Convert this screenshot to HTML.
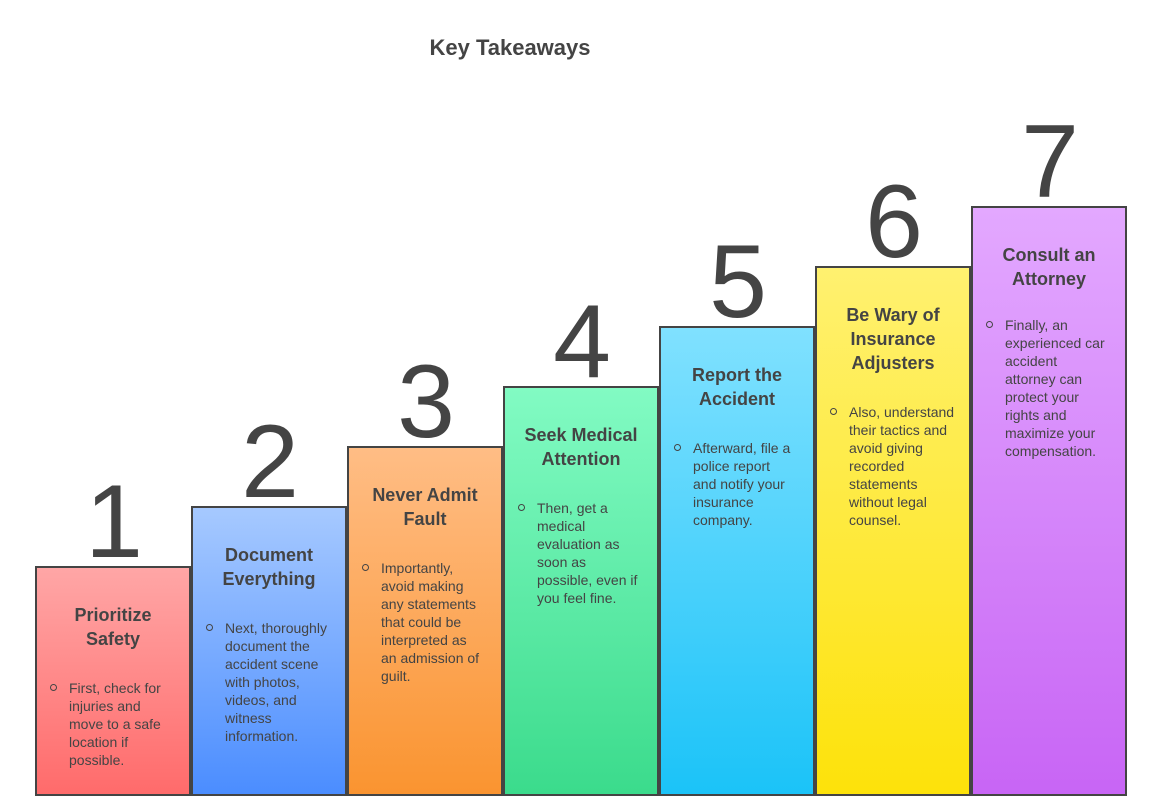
<!DOCTYPE html>
<html><head><meta charset="utf-8"><style>
body{margin:0;width:1152px;height:809px;background:#fff;position:relative;font-family:"Liberation Sans",sans-serif;color:#444;overflow:hidden}
.t{position:absolute;left:0;width:1020px;top:35px;text-align:center;font-weight:bold;font-size:22px}
.bar{position:absolute;width:152px;bottom:13px;border:2px solid #444;box-sizing:content-box}
.num{position:absolute;left:0;width:156px;text-align:center;font-size:104px;line-height:1;color:#444}
.h{margin-top:35px;text-align:center;font-weight:bold;font-size:18px;line-height:24px;padding:0 6px}
.b{margin-top:28px;position:relative;padding-left:32px;padding-right:16px;font-size:14px;line-height:18px}
.b:before{content:"";position:absolute;left:13px;top:5px;width:5px;height:5px;border:1.5px solid #444;border-radius:50%}
</style></head><body>
<div class="t">Key Takeaways</div>

<div class="num" style="left:36px;top:470px">1</div>
<div class="bar" style="left:35px;top:566px;background:linear-gradient(#ffa6a6,#ff6b6b)"><div class="h">Prioritize<br>Safety</div><div class="b">First, check for injuries and move to a safe location if possible.</div></div>

<div class="num" style="left:192px;top:410px">2</div>
<div class="bar" style="left:191px;top:506px;background:linear-gradient(#a6c9ff,#4b8dff)"><div class="h">Document<br>Everything</div><div class="b">Next, thoroughly document the accident scene with photos, videos, and witness information.</div></div>

<div class="num" style="left:348px;top:350px">3</div>
<div class="bar" style="left:347px;top:446px;background:linear-gradient(#ffbd85,#fa9430)"><div class="h">Never Admit<br>Fault</div><div class="b">Importantly, avoid making any statements that could be interpreted as an admission of guilt.</div></div>

<div class="num" style="left:504px;top:290px">4</div>
<div class="bar" style="left:503px;top:386px;background:linear-gradient(#82fbc3,#3bdb8c)"><div class="h">Seek Medical<br>Attention</div><div class="b">Then, get a medical evaluation as soon as possible, even if you feel fine.</div></div>

<div class="num" style="left:660px;top:230px">5</div>
<div class="bar" style="left:659px;top:326px;background:linear-gradient(#80e1ff,#1bc3f8)"><div class="h">Report the<br>Accident</div><div class="b">Afterward, file a police report and notify your insurance company.</div></div>

<div class="num" style="left:816px;top:170px">6</div>
<div class="bar" style="left:815px;top:266px;background:linear-gradient(#fff170,#fde20a)"><div class="h">Be Wary of<br>Insurance<br>Adjusters</div><div class="b" style="padding-right:8px">Also, understand their tactics and avoid giving recorded statements without legal counsel.</div></div>

<div class="num" style="left:972px;top:110px">7</div>
<div class="bar" style="left:971px;top:206px;background:linear-gradient(#e3a8ff,#c865f5)"><div class="h">Consult an<br>Attorney</div><div class="b" style="margin-top:25px">Finally, an experienced car accident attorney can protect your rights and maximize your compensation.</div></div>
</body></html>
